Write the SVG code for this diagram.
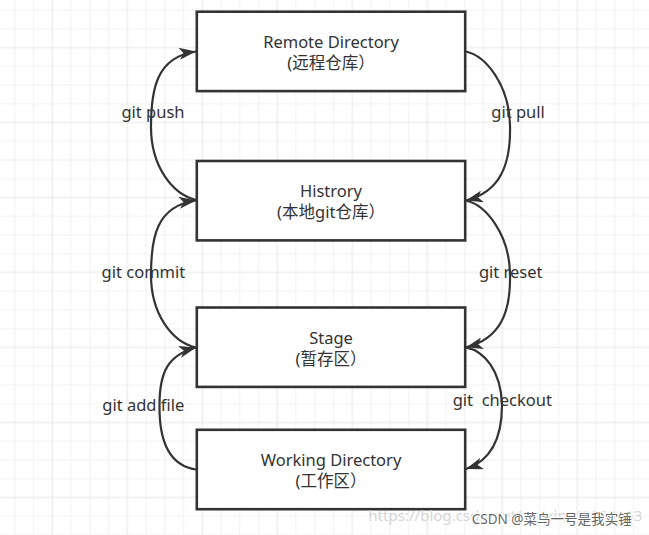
<svg xmlns="http://www.w3.org/2000/svg" width="649" height="535" viewBox="0 0 649 535">
  <style>
    .box { fill: #ffffff; stroke: #333333; stroke-width: 2.6; }
    .t { font-family: "Noto Sans", "Noto Sans CJK SC", sans-serif; font-size: 16.5px; fill: #333333; text-anchor: middle; }
    .lbl { font-family: "Noto Sans", "Noto Sans CJK SC", sans-serif; font-size: 16.5px; fill: #333333; }
    .edge { fill: none; stroke: #333333; stroke-width: 2.2; marker-end: url(#arrow); }
    .minor { stroke: #f1f1f1; stroke-width: 1; fill: none; }
    .major { stroke: #e5e5e5; stroke-width: 1; fill: none; }
  </style>
  <defs>
    <pattern id="grid" patternUnits="userSpaceOnUse" x="52.3" y="47.5" width="75" height="75">
      <path class="minor" d="M18.75,0V75M37.5,0V75M56.25,0V75M0,18.75H75M0,37.5H75M0,56.25H75"/>
      <path class="major" d="M0,0V75M75,0V75M0,0H75M0,75H75"/>
    </pattern>
    <marker id="arrow" markerUnits="userSpaceOnUse" markerWidth="18" markerHeight="12" refX="17" refY="6" orient="auto">
      <path d="M0,0 L17,6 L0,12 L4.5,6 Z" fill="#333333"/>
    </marker>
  </defs>

  <rect x="0" y="0" width="649" height="535" fill="#ffffff"/>
  <rect x="0" y="0" width="649" height="535" fill="url(#grid)"/>

  <g id="connectors">
    <path id="e-push" class="edge" d="M196,200 C172,194 151,166 151,127 C151,90 156,57 196,51.5"/>
    <path id="e-pull" class="edge" d="M466,51.5 C486,56 509,85 510,125 C511,165 500,192 466,200.5"/>
    <path id="e-commit" class="edge" d="M196,347.5 C172,342 151,314 151,275 C151,238 156,206 196,200.5"/>
    <path id="e-reset" class="edge" d="M466,200.5 C486,205 509,234 510,273 C511,313 500,339 466,347.3"/>
    <path id="e-add" class="edge" d="M196,469.5 C172,466 159,445 159.5,405 C159.5,372 168,355 196,347.5"/>
    <path id="e-checkout" class="edge" d="M466,347.3 C484,351 501,370 502,405 C502,435 493,460 466,469"/>
  </g>

  <g id="labels">
    <text class="lbl" x="153" y="117.5" text-anchor="middle">git push</text>
    <text class="lbl" x="518" y="118" text-anchor="middle">git pull</text>
    <text class="lbl" x="143.4" y="278" text-anchor="middle">git commit</text>
    <text class="lbl" x="510.7" y="278" text-anchor="middle">git reset</text>
    <text class="lbl" x="143.3" y="411" text-anchor="middle">git add file</text>
    <text class="lbl" x="452.7" y="406" xml:space="preserve">git  checkout</text>
  </g>

  <g id="node-remote">
    <rect class="box" x="196.8" y="11.7" width="268.4" height="79.4"/>
    <text class="t" x="331" y="47.5">Remote Directory</text>
    <text class="t" x="331" y="68.5">(远程仓库）</text>
  </g>
  <g id="node-history">
    <rect class="box" x="196.8" y="161" width="268.4" height="79.4"/>
    <text class="t" x="331" y="196.5">Histrory</text>
    <text class="t" x="331" y="217.5">(本地git仓库）</text>
  </g>
  <g id="node-stage">
    <rect class="box" x="196.8" y="307.5" width="268.4" height="79.4"/>
    <text class="t" x="331" y="343.5">Stage</text>
    <text class="t" x="331" y="364.5">(暂存区）</text>
  </g>
  <g id="node-working">
    <rect class="box" x="196.8" y="429.8" width="268.4" height="79.4"/>
    <text class="t" x="331" y="465.5">Working Directory</text>
    <text class="t" x="331" y="486.5">(工作区）</text>
  </g>

  <g id="watermark">
    <text x="368.3" y="521" font-family="Noto Sans, sans-serif" font-size="14" fill="#d6d6d6" textLength="274" lengthAdjust="spacingAndGlyphs">https://blog.csdn.net/weixin_43993253</text>
    <text x="471.7" y="523.5" font-family="'Noto Sans', 'Noto Sans CJK SC', sans-serif" font-size="13.6" fill="#666666" stroke="#ffffff" stroke-width="3" paint-order="stroke" stroke-linejoin="round" textLength="160" lengthAdjust="spacingAndGlyphs">CSDN @菜鸟一号是我实锤</text>
  </g>
</svg>
